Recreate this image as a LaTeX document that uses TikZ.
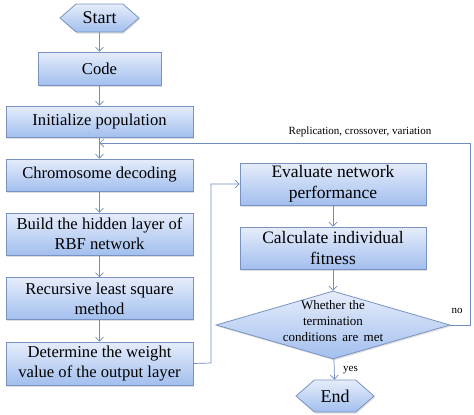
\documentclass[tikz,border=0pt]{standalone}
\usepackage{fontspec}
\setmainfont{Liberation Serif}
\usetikzlibrary{shapes.geometric,shapes.symbols,arrows.meta,shadows}
\definecolor{boxtop}{HTML}{E6EDFB}
\definecolor{boxbot}{HTML}{A2BFEE}
\definecolor{boxline}{HTML}{7893C2}
\definecolor{arrline}{HTML}{6F8CBC}
\tikzset{
  fillbox/.style={draw=boxline, line width=0.8pt, top color=boxtop, bottom color=boxbot,
    drop shadow={opacity=0.25, shadow xshift=1pt, shadow yshift=-1.5pt}},
  procbox/.style={fillbox, rectangle, inner sep=0pt, align=center},
  leftbox/.style={procbox, minimum width=187pt, font=\fontsize{16.6}{20}\selectfont},
  rightbox/.style={procbox, minimum width=186pt, minimum height=42pt, font=\fontsize{17.5}{21}\selectfont},
  termbox/.style={fillbox, signal, signal to=east and west, signal pointer angle=82,
    inner sep=0pt, font=\fontsize{18}{20}\selectfont},
  decbox/.style={fillbox, diamond, inner sep=0pt, minimum width=234pt, minimum height=68pt},
  flow/.style={draw=arrline, line width=0.7pt, -{Straight Barb[length=4pt,width=8pt]}},
  smalltext/.style={font=\fontsize{11}{13}\selectfont, inner sep=0pt}
}
\begin{document}
\begin{tikzpicture}[x=1pt,y=-1pt]
\useasboundingbox (0,0) rectangle (474,415);
% left column
\node[termbox, minimum width=79pt, minimum height=28pt] (start) at (99.5,18) {Start};
\node[procbox, minimum width=123pt, minimum height=33pt, font=\fontsize{16.6}{20}\selectfont] (code) at (99.5,68.5) {Code};
\node[leftbox, minimum height=31pt] (init) at (99.5,121.5) {Initialize population};
\node[leftbox, minimum height=32pt] (chrom) at (99.5,175) {Chromosome decoding};
\node[leftbox, minimum height=42pt] (build) at (99.5,234) {Build the hidden layer of\\RBF network};
\node[leftbox, minimum height=42pt] (rls) at (99.5,298.5) {Recursive least square\\method};
\node[leftbox, minimum height=43pt] (weight) at (99.5,363.5) {Determine the weight\\value of the output layer};
% right column
\node[rightbox] (eval) at (333,184) {Evaluate network\\performance};
\node[rightbox] (fit) at (333,248) {Calculate individual\\fitness};
\node[decbox] (dec) at (333,325) {\makebox[0pt]{\smash{\fontsize{13}{16}\selectfont\begin{tabular}{@{}c@{}}Whether the\\termination\\conditions\, are\, met\end{tabular}}}};
\node[termbox, minimum width=78pt, minimum height=32pt] (end) at (335,396) {End};
% coordinates
\coordinate (merge) at (99.5,143);
\coordinate (loopa) at (211,363);
\coordinate (loopb) at (211,184);
\coordinate (noa) at (470,325);
\coordinate (nob) at (470,143);
% connectors
\draw[flow] (start) -- (code);
\draw[flow] (code) -- (init);
\draw[draw=arrline, line width=0.7pt] (init) -- (merge);
\draw[flow] (merge) -- (chrom);
\draw[flow] (chrom) -- (build);
\draw[flow] (build) -- (rls);
\draw[flow] (rls) -- (weight);
\draw[flow] (weight.east) -- (loopa) -- (loopb) -- (eval.west);
\draw[flow] (eval) -- (fit);
\draw[flow] (fit) -- (dec);
\draw[flow] (dec) -- (end);
\draw[flow] (dec.east) -- (noa) -- (nob) -- (merge);
% labels
\node[smalltext, anchor=west] (yes) at (343,370) {yes};
\node[smalltext] (no) at (457,311) {no};
\node[smalltext] (rep) at (360,132) {Replication, crossover, variation};
\end{tikzpicture}
\end{document}
